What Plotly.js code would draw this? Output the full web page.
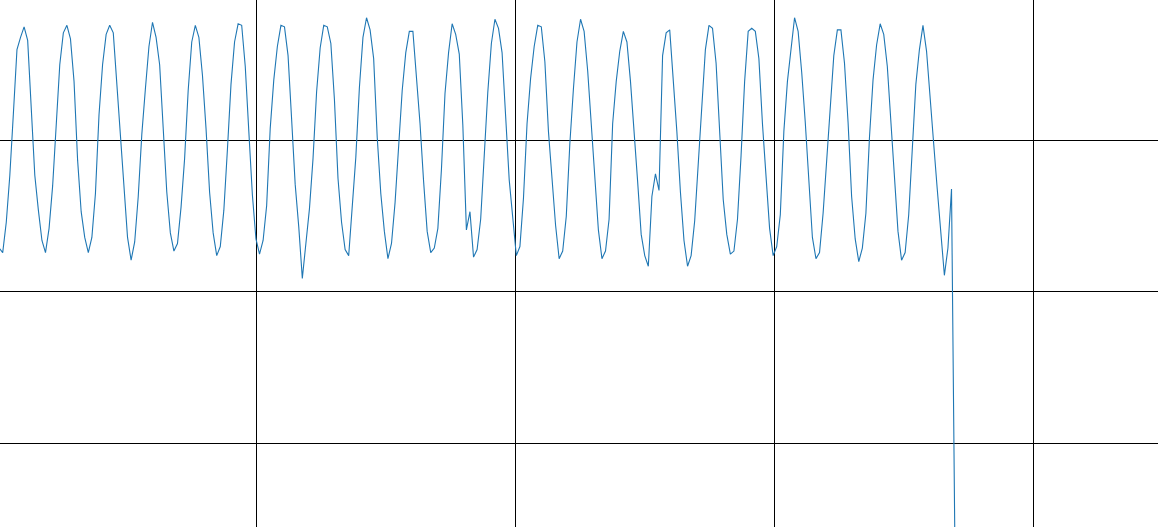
<!DOCTYPE html>
<html>
<head>
<meta charset="utf-8">
<script src="https://cdn.plot.ly/plotly-3.0.1.min.js"></script>
<style>
  html, body { margin: 0; padding: 0; background: #ffffff; }
  #chart { width: 1158px; height: 527px; }
</style>
</head>
<body>
<div id="chart"></div>
<script>
// Monthly values (index -1 ... 267)
const startMonth = -1;
const values = [
  12.9,
  12.6, 14.6, 17.7, 21.8, 26.0, 26.8, 27.5, 26.6, 22.5, 17.7, 15.4, 13.4,
  12.6, 14.2, 17.0, 21.0, 25.0, 27.1, 27.6, 26.7, 23.9, 18.7, 15.3, 13.6,
  12.6, 13.6, 16.5, 21.7, 25.0, 27.0, 27.6, 27.1, 23.7, 20.3, 16.4, 13.6,
  12.1, 13.3, 16.3, 20.4, 23.4, 26.2, 27.8, 26.8, 25.0, 20.7, 16.6, 13.9,
  12.7, 13.2, 15.6, 18.8, 23.3, 26.5, 27.6, 26.8, 24.3, 20.8, 16.6, 13.9,
  12.4, 13.0, 15.4, 19.4, 23.7, 26.5, 27.7, 27.6, 24.9, 20.6, 16.4, 13.5,
  12.5, 13.4, 15.7, 20.8, 24.0, 26.2, 27.6, 27.5, 25.6, 21.4, 17.1, 14.3,
  10.9, 13.2, 15.5, 18.8, 23.2, 26.1, 27.6, 27.5, 26.4, 22.7, 17.5, 14.6,
  12.8, 12.4, 15.5, 18.9, 23.5, 26.8, 28.1, 27.3, 25.4, 20.2, 16.5, 14.0,
  12.2, 13.2, 15.9, 19.6, 23.3, 25.8, 27.2, 27.2, 24.1, 21.1, 17.3, 14.0,
  12.6, 12.9, 14.2, 18.1, 23.1, 25.8, 27.7, 27.0, 25.7, 21.0, 14.1, 15.3,
  12.3, 12.8, 14.8, 18.9, 23.2, 26.4, 28.0, 27.4, 25.8, 21.6, 17.4, 14.9,
  12.4, 13.0, 16.2, 21.1, 24.1, 26.2, 27.6, 27.5, 25.2, 20.6, 17.3, 14.4,
  12.2, 12.7, 15.0, 19.8, 23.4, 26.5, 28.0, 27.2, 24.6, 21.2, 17.6, 14.1,
  12.2, 12.7, 14.8, 21.1, 23.9, 25.9, 27.2, 26.5, 23.9, 20.9, 17.3, 13.8,
  12.4, 11.7, 16.3, 17.8, 16.7, 25.6, 27.1, 27.3, 24.1, 20.6, 16.6, 13.4,
  11.7, 12.4, 14.7, 18.7, 22.1, 26.0, 27.6, 27.4, 25.1, 20.6, 16.1, 13.8,
  12.5, 12.7, 14.8, 19.0, 23.9, 27.2, 27.4, 27.2, 25.4, 21.1, 17.5, 14.2,
  12.4, 13.0, 15.1, 20.6, 23.9, 26.2, 28.1, 27.2, 24.5, 21.2, 17.2, 13.6,
  12.2, 12.6, 15.2, 18.8, 22.5, 25.6, 27.3, 27.3, 25.1, 21.2, 16.3, 13.5,
  12.0, 12.9, 15.2, 20.2, 24.0, 26.3, 27.7, 27.0, 24.9, 21.1, 17.0, 14.0,
  12.1, 12.6, 15.1, 19.4, 23.7, 26.0, 27.6, 25.9, 23.1, 19.8, 16.8, 13.8,
  11.1, 12.9, 16.8, -8.0
];
const months = values.map((v, i) => startMonth + i);

// Axis settings (hidden axes, black grid only)
const xRange = [-0.757, 323.89];
const xGridStart = 71.29;
const xGridStep = 72.61;
const yRange = [-5.51, 29.27];
const yGridStep = 10;

const trace = {
  x: months,
  y: values,
  type: 'scatter',
  mode: 'lines',
  line: { color: '#1f77b4', width: 1.1 },
  hoverinfo: 'skip',
  showlegend: false
};

const layout = {
  width: 1158,
  height: 527,
  margin: { l: 0, r: 0, t: 0, b: 0, pad: 0 },
  paper_bgcolor: '#ffffff',
  plot_bgcolor: '#ffffff',
  showlegend: false,
  xaxis: {
    range: xRange,
    tickmode: 'linear',
    tick0: xGridStart,
    dtick: xGridStep,
    showgrid: true,
    gridcolor: '#000000',
    gridwidth: 1,
    zeroline: false,
    showline: false,
    showticklabels: false,
    ticks: ''
  },
  yaxis: {
    range: yRange,
    tickmode: 'linear',
    tick0: 0,
    dtick: yGridStep,
    showgrid: true,
    gridcolor: '#000000',
    gridwidth: 1,
    zeroline: false,
    showline: false,
    showticklabels: false,
    ticks: ''
  }
};

Plotly.newPlot('chart', [trace], layout, { displayModeBar: false, staticPlot: true });
</script>
</body>
</html>
